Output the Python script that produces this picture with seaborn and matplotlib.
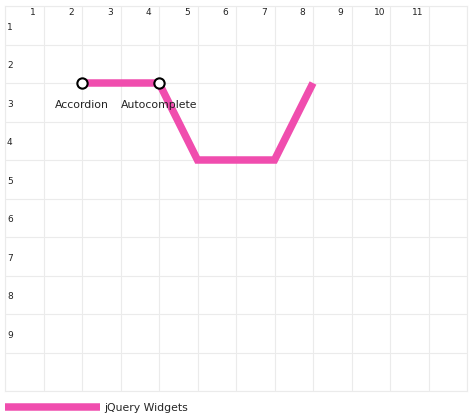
import matplotlib
matplotlib.use("Agg")
import matplotlib.pyplot as plt
import pandas as pd
import seaborn as sns

# data
line_name = "jQuery Widgets"
line_x = [2, 4, 5, 7, 8]
line_y = [2, 2, 4, 4, 2]
station_names = ["Accordion", "Autocomplete"]
station_x = [2, 4]
station_y = [2, 2]
col_labels = [str(i) for i in range(1, 12)]
row_labels = [str(i) for i in range(1, 10)]

PINK = "#F04DAE"

sns.set_style("white")
plt.rcParams["font.family"] = ["DejaVu Sans"]

fig = plt.figure(figsize=(4.74, 4.2), dpi=100)
ax = fig.add_axes([5 / 474, 29 / 420, 462 / 474, 385 / 420])

df = pd.DataFrame({"x": line_x, "y": line_y, "line": line_name})
sns.lineplot(data=df, x="x", y="y", hue="line", palette=[PINK], sort=False,
             linewidth=5.4, estimator=None, ax=ax, legend=True)
line = ax.lines[0]
line.set_solid_joinstyle("miter")
line.set_solid_capstyle("butt")

st = pd.DataFrame({"x": station_x, "y": station_y})
sns.scatterplot(data=st, x="x", y="y", s=55, color="white", edgecolor="black",
                linewidth=1.5, zorder=5, ax=ax, legend=False)
for name, sx, sy in zip(station_names, station_x, station_y):
    ax.text(sx, sy + 0.57, name, ha="center", va="center", fontsize=7.8, color="#222222")

ax.set_xlim(0, 12)
ax.set_ylim(10, 0)
ax.set_xticks(range(13))
ax.set_yticks(range(11))
ax.grid(True, color="#ebebeb", linewidth=0.8)
ax.tick_params(length=0, labelbottom=False, labelleft=False)
ax.set_xlabel("")
ax.set_ylabel("")
for s in ax.spines.values():
    s.set_color("#ebebeb")
    s.set_linewidth(0.8)

for i, lab in enumerate(col_labels, start=1):
    ax.text(i - 0.28, 0.16, lab, ha="center", va="center", fontsize=6.5, color="#222222")
for i, lab in enumerate(row_labels, start=1):
    ax.text(0.05, i - 0.45, lab, ha="left", va="center", fontsize=6.5, color="#222222")

ax.legend(loc="center left", bbox_to_anchor=(-0.01, -0.043), frameon=False,
          handlelength=8.8, handletextpad=0.4, fontsize=7.8, borderaxespad=0)
leg = ax.get_legend()
for h in leg.legend_handles:
    h.set_linewidth(5.4)
    h.set_solid_capstyle("butt")

fig.savefig("out.png", dpi=100)
